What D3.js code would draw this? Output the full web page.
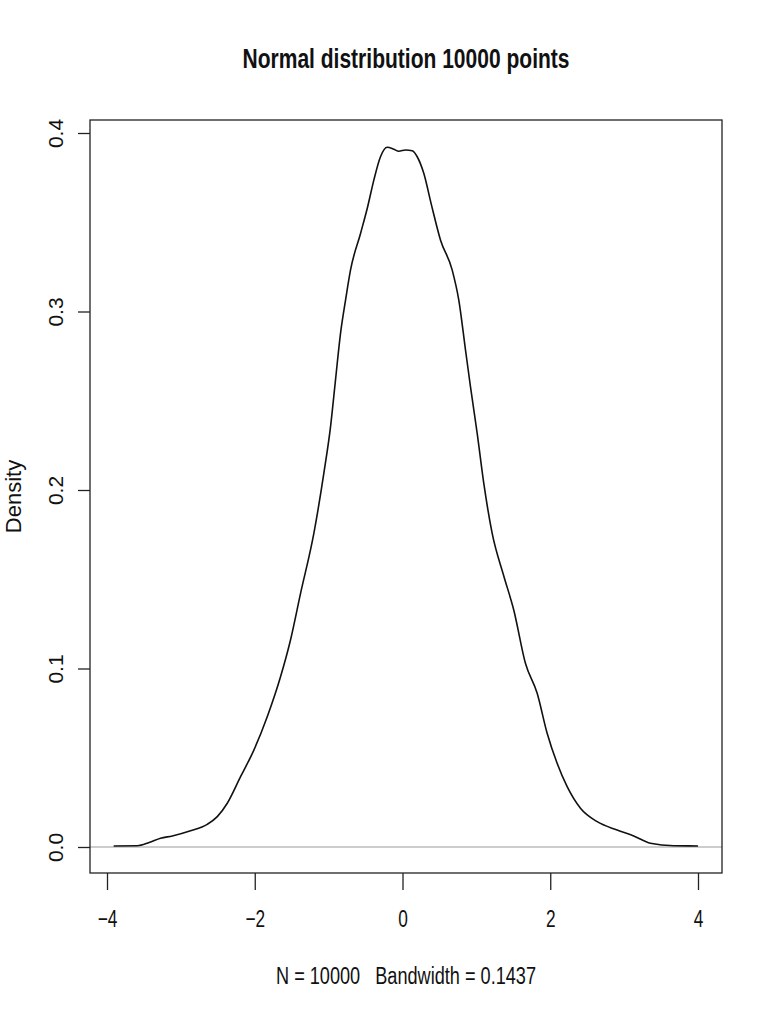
<!DOCTYPE html>
<html>
<head>
<meta charset="utf-8">
<script src="https://cdn.jsdelivr.net/npm/d3@7"></script>
<style>
  body { margin: 0; background: #fff; }
  text { fill: #111; }
</style>
</head>
<body>
<div id="plot"></div>
<script>
// density estimate
var densX = [-3.91, -3.59, -3.43, -3.275, -3.116, -2.869, -2.643, -2.507, -2.372, -2.192, -2.012, -1.831, -1.651, -1.516, -1.38, -1.2, -1.065, -0.974, -0.907, -0.839, -0.771, -0.704, -0.568, -0.47, -0.388, -0.298, -0.207, -0.118, -0.05, 0.041, 0.131, 0.199, 0.288, 0.39, 0.514, 0.673, 0.762, 0.853, 0.92, 1.011, 1.1, 1.214, 1.37, 1.506, 1.664, 1.823, 1.958, 2.093, 2.229, 2.409, 2.635, 2.905, 3.13, 3.356, 3.671, 4.0];
var densY = [0.0006, 0.0007, 0.0025, 0.0049, 0.0062, 0.0091, 0.0127, 0.017, 0.0245, 0.0394, 0.0543, 0.073, 0.0954, 0.116, 0.1421, 0.1757, 0.2093, 0.2355, 0.2616, 0.2878, 0.3064, 0.3232, 0.3437, 0.359, 0.3736, 0.3867, 0.392, 0.3909, 0.3898, 0.3905, 0.3901, 0.3867, 0.3774, 0.36, 0.3401, 0.3232, 0.3064, 0.2784, 0.2579, 0.2317, 0.2038, 0.1757, 0.152, 0.1328, 0.1029, 0.0861, 0.0637, 0.0469, 0.0338, 0.0217, 0.0142, 0.0095, 0.0062, 0.0021, 0.0007, 0.0006];
var xTicks = [-4, -2, 0, 2, 4];
var yTicks = [0, 0.1, 0.2, 0.3, 0.4];
var title = "Normal distribution 10000 points";
var subtitle = "N = 10000   Bandwidth = 0.1437";
var yLabel = "Density";

var W = 768, H = 1024;
var box = {left: 90, right: 722, top: 120, bottom: 873};

var svg = d3.select("#plot").append("svg").attr("width", W).attr("height", H);

var x = d3.scaleLinear().domain([-4, 4]).range([107, 698]);
var y = d3.scaleLinear().domain([0, 0.4]).range([847, 133]);

var pts = densX.map(function(d, i) { return [d, densY[i]]; });

// zero reference line
svg.append("line").attr("x1", box.left).attr("x2", box.right).attr("y1", y(0)).attr("y2", y(0)).attr("stroke", "#bdbdbd").attr("stroke-width", 1.3);

var line = d3.line().x(function(d) { return x(d[0]); }).y(function(d) { return y(d[1]); }).curve(d3.curveMonotoneX);
svg.append("path").datum(pts).attr("d", line).attr("fill", "none").attr("stroke", "#111").attr("stroke-width", 1.6);

// frame
svg.append("rect").attr("x", box.left).attr("y", box.top).attr("width", box.right - box.left).attr("height", box.bottom - box.top).attr("fill", "none").attr("stroke", "#222").attr("stroke-width", 1.3);

// x axis (labels squeezed like the reference)
var gx = svg.append("g").attr("transform", "translate(0," + box.bottom + ")")
  .call(d3.axisBottom(x).tickValues(xTicks).tickSize(17).tickFormat(d3.format("d")));
gx.select(".domain").remove();
gx.selectAll(".tick line").attr("stroke", "#222").attr("stroke-width", 1.3);
gx.selectAll(".tick text").attr("y", 54).attr("dy", null).attr("transform", "scale(0.72,1)")
  .style("font-family", "'Liberation Sans', Arial, sans-serif").style("font-size", "24px").attr("fill", "#111");

// y axis
var gy = svg.append("g").attr("transform", "translate(" + box.left + ",0)")
  .call(d3.axisLeft(y).tickValues(yTicks).tickSize(12).tickFormat(d3.format(".1f")));
gy.select(".domain").remove();
gy.selectAll(".tick line").attr("stroke", "#222").attr("stroke-width", 1.3);
gy.selectAll(".tick text").attr("x", null).attr("dy", null).attr("text-anchor", "middle")
  .attr("transform", "translate(-27,0) rotate(-90)")
  .style("font-family", "'Liberation Sans', Arial, sans-serif").style("font-size", "21px").attr("fill", "#111");

// titles
var cx = (box.left + box.right) / 2;
svg.append("text").attr("x", cx).attr("y", 68).attr("text-anchor", "middle")
  .attr("textLength", 327).attr("lengthAdjust", "spacingAndGlyphs")
  .style("font-family", "'Liberation Sans', Arial, sans-serif").style("font-weight", "bold").style("font-size", "27px")
  .text(title);

svg.append("text").attr("x", cx).attr("y", 984).attr("text-anchor", "middle")
  .attr("textLength", 260).attr("lengthAdjust", "spacingAndGlyphs")
  .style("font-family", "'Liberation Sans', Arial, sans-serif").style("font-size", "23px")
  .style("white-space", "pre")
  .text(subtitle);

svg.append("text").attr("transform", "translate(21," + ((box.top + box.bottom) / 2) + ") rotate(-90)")
  .attr("text-anchor", "middle")
  .style("font-family", "'Liberation Sans', Arial, sans-serif").style("font-size", "22px")
  .text(yLabel);
</script>
</body>
</html>
